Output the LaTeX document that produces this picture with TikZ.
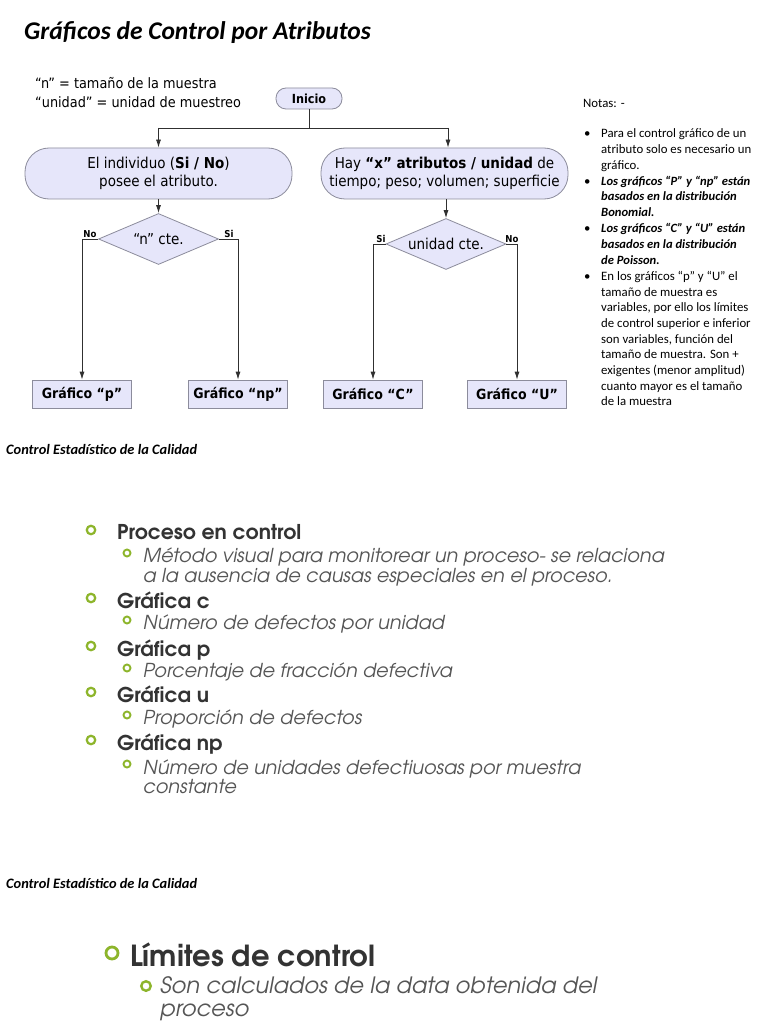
\documentclass[tikz,border=0pt]{standalone}
\usepackage{fontspec}
\usetikzlibrary{shapes.geometric,arrows.meta}
\setmainfont{Carlito}
\newfontfamily\flowfont{DejaVu Sans Condensed}
\newfontfamily\gothic{texgyreadventor}[Extension=.otf,UprightFont=*-regular,BoldFont=*-bold,ItalicFont=*-italic,BoldItalicFont=*-bolditalic]
\definecolor{boxfill}{HTML}{E6E6FA}
\definecolor{boxline}{HTML}{8C8C9C}
\definecolor{linegray}{HTML}{303030}
\definecolor{bulletgreen}{HTML}{8DB52B}
\definecolor{headgray}{HTML}{333333}
\definecolor{subgray}{HTML}{555555}
\tikzset{
  roundbox/.style={draw=boxline, fill=boxfill, line width=0.8pt, align=center, inner sep=0pt,
    font=\flowfont\fontsize{15}{18}\selectfont},
  chartbox/.style={draw=boxline, fill=boxfill, line width=0.8pt, minimum width=99pt, minimum height=28pt,
    inner sep=0pt, font=\flowfont\bfseries\fontsize{14}{16}\selectfont},
  decision/.style={diamond, aspect=2.6, draw=boxline, fill=boxfill, line width=0.8pt, minimum width=120pt,
    minimum height=51pt, inner sep=0pt, font=\flowfont\fontsize{15}{17}\selectfont},
  flow/.style={draw=linegray, line width=0.8pt, -{Latex[length=8pt,width=5pt]}},
  plain/.style={draw=linegray, line width=0.8pt},
  yesno/.style={font=\flowfont\bfseries\fontsize{9.5}{10}\selectfont, anchor=south, inner sep=1pt},
  legend/.style={font=\flowfont\fontsize{14.3}{16}\selectfont, anchor=base west, inner sep=0pt},
  note/.style={font=\fontsize{12.8}{14}\selectfont, anchor=base west, inner sep=0pt},
  notebi/.style={font=\bfseries\itshape\fontsize{12.6}{14}\selectfont, anchor=base west, inner sep=0pt},
  footer/.style={font=\bfseries\itshape\fontsize{14.4}{16}\selectfont, anchor=base west, inner sep=0pt},
  head/.style={font=\gothic\bfseries\fontsize{20.4}{22}\selectfont, text=headgray, anchor=base west, inner sep=0pt},
  sub/.style={font=\gothic\itshape\fontsize{19.2}{21}\selectfont, text=subgray, anchor=base west, inner sep=0pt},
  ring/.style={circle, draw=bulletgreen, line width=2.2pt, minimum size=8.5pt, inner sep=0pt},
  smallring/.style={circle, draw=bulletgreen, line width=1.9pt, minimum size=7pt, inner sep=0pt},
}
\begin{document}
\begin{tikzpicture}[x=1pt,y=-1pt]
\useasboundingbox[fill=white] (0,0) rectangle (768,1024);

% title
\node[anchor=base west, inner sep=0pt, font=\bfseries\itshape\fontsize{25.5}{28}\selectfont] (title) at (24,40) {Gráficos de Control por Atributos};

% legend
\node[legend] (leg1) at (35,89) {“n” = tamaño de la muestra};
\node[legend] (leg2) at (35,108) {“unidad” = unidad de muestreo};

% flowchart
\node[roundbox, minimum width=66pt, minimum height=21pt, rounded corners=10pt,
  font=\flowfont\bfseries\fontsize{12.5}{14}\selectfont] (ini) at (309,98.5) {Inicio};
\node[roundbox, minimum width=267pt, minimum height=51pt, rounded corners=24pt] (b1) at (158.5,173.5)
  {El individuo (\textbf{Si / No})\\posee el atributo.};
\node[roundbox, minimum width=247pt, minimum height=51pt, rounded corners=24pt] (b2) at (444.5,173.5)
  {Hay \textbf{“x” atributos / unidad} de\\tiempo; peso; volumen; superficie};

\coordinate (j) at (309,128);
\coordinate (jl) at (158.5,128);
\coordinate (jr) at (448,128);
\draw[plain] (ini.south) -- (j);
\draw[plain] (jl) -- (jr);
\draw[flow] (jl) -- (jl |- b1.north);
\draw[flow] (jr) -- (jr |- b2.north);

\node[decision] (d1) at (158.5,239) {“n” cte.};
\node[decision] (d2) at (446,244) {unidad cte.};
\draw[flow] (b1.south) -- (d1.north);
\draw[flow] (b2.south -| d2.north) -- (d2.north);

\node[chartbox] (gp) at (82,394) {Gráfico “p”};
\node[chartbox] (gnp) at (238,394) {Gráfico “np”};
\node[chartbox] (gc) at (373,394) {Gráfico “C”};
\node[chartbox] (gu) at (517,394) {Gráfico “U”};

\draw[flow] (d1.west) -| (gp.north);
\draw[flow] (d1.east) -| (gnp.north);
\draw[flow] (d2.west) -| (gc.north);
\draw[flow] (d2.east) -| (gu.north);

\node[yesno] (no1) at (90,239) {No};
\node[yesno] (si1) at (229,239) {Si};
\node[yesno] (si2) at (381,244) {Si};
\node[yesno] (no2) at (512,244) {No};

% notes
\node[note] (notas) at (583,108) {Notas: -};
\foreach \y/\t/\s [count=\i] in {
 138/{Para el control gráfico de un}/note,
 154/{atributo solo es necesario un}/note,
 170/{gráfico.}/note,
 186/{Los gráficos “P” y “np” están}/notebi,
 201/{basados en la distribución}/notebi,
 217/{Bonomial.}/notebi,
 233/{Los gráficos “C” y “U” están}/notebi,
 248/{basados en la distribución}/notebi,
 264/{de Poisson.}/notebi,
 280/{En los gráficos “p” y “U” el}/note,
 296/{tamaño de muestra es}/note,
 311/{variables, por ello los límites}/note,
 327/{de control superior e inferior}/note,
 343/{son variables, función del}/note,
 358/{tamaño de muestra. Son +}/note,
 374/{exigentes (menor amplitud)}/note,
 390/{cuanto mayor es el tamaño}/note,
 405/{de la muestra}/note}
  \node[\s] (nl\i) at (601,\y) {\t};
\foreach \y [count=\i] in {138,186,233,280}
  \node[note] (nb\i) at (584,\y) {•};

% footers
\node[footer] (foot1) at (6,454) {Control Estadístico de la Calidad};
\node[footer] (foot2) at (6,888) {Control Estadístico de la Calidad};

% slide list
\node[ring] (r1) at (91,530) {};
\node[head] (h1) at (117,539) {Proceso en control};
\node[smallring] (s1) at (127,553) {};
\node[sub] (t1a) at (143,562) {Método visual para monitorear un proceso- se relaciona};
\node[sub] (t1b) at (143,582) {a la ausencia de causas especiales en el proceso.};

\node[ring] (r2) at (91,598) {};
\node[head] (h2) at (117,608) {Gráfica c};
\node[smallring] (s2) at (127,620) {};
\node[sub] (t2) at (143,629) {Número de defectos por unidad};

\node[ring] (r3) at (91,646) {};
\node[head] (h3) at (117,656) {Gráfica p};
\node[smallring] (s3) at (127,668) {};
\node[sub] (t3) at (143,677) {Porcentaje de fracción defectiva};

\node[ring] (r4) at (91,692) {};
\node[head] (h4) at (117,702) {Gráfica u};
\node[smallring] (s4) at (127,715) {};
\node[sub] (t4) at (143,724) {Proporción de defectos};

\node[ring] (r5) at (91,740) {};
\node[head] (h5) at (117,750) {Gráfica np};
\node[smallring] (s5) at (127,764) {};
\node[sub] (t5a) at (143,774) {Número de unidades defectiuosas por muestra};
\node[sub] (t5b) at (143,793) {constante};

% last slide
\node[ring, minimum size=12pt, line width=2.8pt] (r6) at (112,953) {};
\node[head, font=\gothic\bfseries\fontsize{29}{32}\selectfont] (h6) at (130,966) {Límites de control};
\node[smallring, minimum size=9.5pt, line width=2.4pt] (s6) at (146,986) {};
\node[sub, align=left, anchor=north west, font=\gothic\itshape\fontsize{22.5}{23.5}\selectfont] (t6) at (160,976)
  {Son calculados de la data obtenida del\\proceso};
\end{tikzpicture}
\end{document}
